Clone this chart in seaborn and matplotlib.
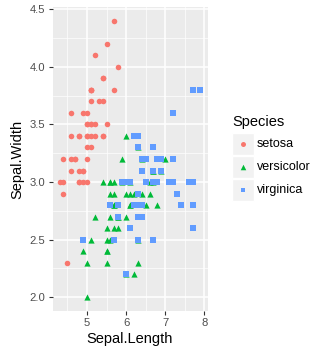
import matplotlib
matplotlib.use("Agg")
import matplotlib.pyplot as plt
import seaborn as sns
import pandas as pd
from matplotlib.patches import Rectangle
from matplotlib.ticker import MultipleLocator

setosa_len = [5.1,4.9,4.7,4.6,5.0,5.4,4.6,5.0,4.4,4.9,5.4,4.8,4.8,4.3,5.8,5.7,5.4,5.1,5.7,5.1,5.4,5.1,4.6,5.1,4.8,5.0,5.0,5.2,5.2,4.7,4.8,5.4,5.2,5.5,4.9,5.0,5.5,4.9,4.4,5.1,5.0,4.5,4.4,5.0,5.1,4.8,5.1,4.6,5.3,5.0]
setosa_wid = [3.5,3.0,3.2,3.1,3.6,3.9,3.4,3.4,2.9,3.1,3.7,3.4,3.0,3.0,4.0,4.4,3.9,3.5,3.8,3.8,3.4,3.7,3.6,3.3,3.4,3.0,3.4,3.5,3.4,3.2,3.1,3.4,4.1,4.2,3.1,3.2,3.5,3.6,3.0,3.4,3.5,2.3,3.2,3.5,3.8,3.0,3.8,3.2,3.7,3.3]
versicolor_len = [7.0,6.4,6.9,5.5,6.5,5.7,6.3,4.9,6.6,5.2,5.0,5.9,6.0,6.1,5.6,6.7,5.6,5.8,6.2,5.6,5.9,6.1,6.3,6.1,6.4,6.6,6.8,6.7,6.0,5.7,5.5,5.5,5.8,6.0,5.4,6.0,6.7,6.3,5.6,5.5,5.5,6.1,5.8,5.0,5.6,5.7,5.7,6.2,5.1,5.7]
versicolor_wid = [3.2,3.2,3.1,2.3,2.8,2.8,3.3,2.4,2.9,2.7,2.0,3.0,2.2,2.9,2.9,3.1,3.0,2.7,2.2,2.5,3.2,2.8,2.5,2.8,2.9,3.0,2.8,3.0,2.9,2.6,2.4,2.4,2.7,2.7,3.0,3.4,3.1,2.3,3.0,2.5,2.6,3.0,2.6,2.3,2.7,3.0,2.9,2.9,2.5,2.8]
virginica_len = [6.3,5.8,7.1,6.3,6.5,7.6,4.9,7.3,6.7,7.2,6.5,6.4,6.8,5.7,5.8,6.4,6.5,7.7,7.7,6.0,6.9,5.6,7.7,6.3,6.7,7.2,6.2,6.1,6.4,7.2,7.4,7.9,6.4,6.3,6.1,7.7,6.3,6.4,6.0,6.9,6.7,6.9,5.8,6.8,6.7,6.7,6.3,6.5,6.2,5.9]
virginica_wid = [3.3,2.7,3.0,2.9,3.0,3.0,2.5,2.9,2.5,3.6,3.2,2.7,3.0,2.5,2.8,3.2,3.0,3.8,2.6,2.2,3.2,2.8,2.8,2.7,3.3,3.2,2.8,3.0,2.8,3.0,2.8,3.8,2.8,2.8,2.6,3.0,3.4,3.1,3.0,3.1,3.1,3.1,2.7,3.2,3.3,3.0,2.5,3.0,3.4,3.0]

species = ["setosa", "versicolor", "virginica"]
colors = {"setosa": "#F8766D", "versicolor": "#00BA38", "virginica": "#619CFF"}
markers = {"setosa": "o", "versicolor": "^", "virginica": "s"}
sizes = {"setosa": 16, "versicolor": 20, "virginica": 15}

df = pd.DataFrame({
    "Sepal.Length": setosa_len + versicolor_len + virginica_len,
    "Sepal.Width": setosa_wid + versicolor_wid + virginica_wid,
    "Species": ["setosa"] * 50 + ["versicolor"] * 50 + ["virginica"] * 50,
})

plt.rcParams["font.family"] = ["Liberation Sans", "DejaVu Sans"]

W, H = 325, 356
fig = plt.figure(figsize=(W / 100, H / 100), dpi=100)
fig.patch.set_facecolor("white")

L, R, T, B = 52.5, 207.5, 7.0, 311.0
ax = fig.add_axes([L / W, 1 - B / H, (R - L) / W, (B - T) / H])
ax.set_facecolor("#EBEBEB")

for sp in species:
    sub = df[df["Species"] == sp]
    sns.scatterplot(data=sub, x="Sepal.Length", y="Sepal.Width", color=colors[sp],
                    marker=markers[sp], s=sizes[sp], linewidth=0, ax=ax, legend=False,
                    zorder=3)

ax.set_xlim(4.12, 8.08)
ax.set_ylim(1.88, 4.52)
ax.xaxis.set_minor_locator(MultipleLocator(0.5))
ax.yaxis.set_minor_locator(MultipleLocator(0.25))
ax.set_xticks([5, 6, 7, 8])
ax.set_xticklabels(["5", "6", "7", "8"])
ax.set_yticks([2.0, 2.5, 3.0, 3.5, 4.0, 4.5])
ax.set_yticklabels(["2.0", "2.5", "3.0", "3.5", "4.0", "4.5"])
ax.grid(which="major", color="white", linewidth=1.1, zorder=0)
ax.grid(which="minor", color="white", linewidth=0.5, zorder=0)
ax.set_axisbelow(True)
for s in ax.spines.values():
    s.set_visible(False)
ax.tick_params(which="major", length=3, width=0.8, color="#333333", labelcolor="#4D4D4D",
               labelsize=8.1, pad=2)
ax.tick_params(which="minor", length=0)
ax.set_xlabel("Sepal.Length", fontsize=10.5, color="black", labelpad=3)
ax.set_ylabel("Sepal.Width", fontsize=10.5, color="black", labelpad=4)

# legend
lx0, ly0, lw, lh = 228, 108, 97, 100
lax = fig.add_axes([lx0 / W, 1 - (ly0 + lh) / H, lw / W, lh / H])
lax.set_xlim(0, lw)
lax.set_ylim(lh, 0)
lax.axis("off")
lax.text(4, 14, "Species", fontsize=10.5, va="center", ha="left")
key_top = 25
for i, sp in enumerate(species):
    y0 = key_top + i * 23
    lax.add_patch(Rectangle((4, y0), 22, 22, facecolor="#F2F2F2", edgecolor="white", linewidth=1))
    lax.scatter([15], [y0 + 11], color=colors[sp], marker=markers[sp], s=sizes[sp] * 0.8,
                linewidth=0)
    lax.text(29, y0 + 11, sp, fontsize=9, va="center", ha="left", color="black")

fig.savefig("out.png", dpi=100)
